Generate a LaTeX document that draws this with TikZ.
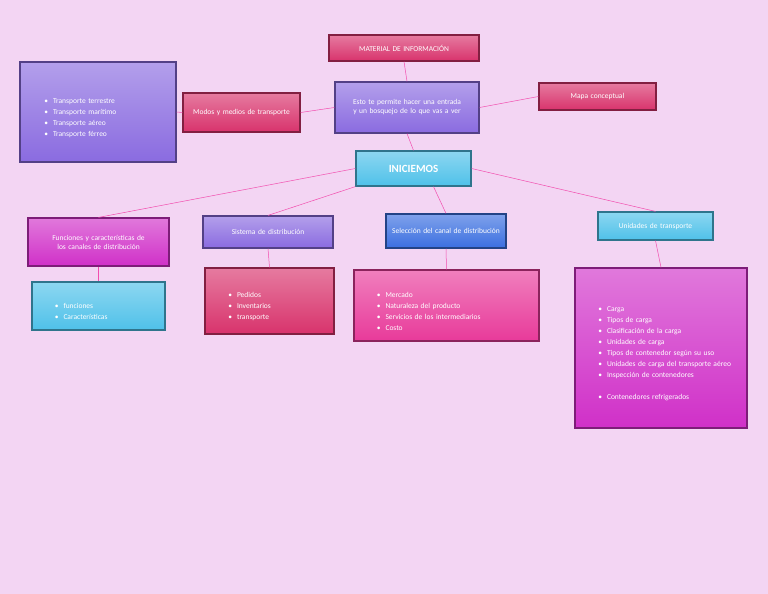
\documentclass[tikz,border=0pt]{standalone}
\usepackage{fontspec}
\setmainfont{Carlito}
\begin{document}
\begin{tikzpicture}[x=1pt,y=-1pt,
  bx/.style={draw=#1!60!black, line width=1.2pt, top color=#1!65!white, bottom color=#1, text=white, font=\fontsize{7.5}{9}\selectfont, align=center, inner sep=2pt},
  ln/.style={draw=magenta!70!white, line width=0.5pt}]
\definecolor{bg}{HTML}{F3D5F3}
\definecolor{crim}{HTML}{D8336C}
\definecolor{purp}{HTML}{8A6BE0}
\definecolor{cyn}{HTML}{4FC1E9}
\definecolor{mag}{HTML}{D030C8}
\definecolor{blu}{HTML}{3B6FE0}
\definecolor{pnk}{HTML}{E83A9A}
\fill[bg] (0,0) rectangle (768,594);
\useasboundingbox (0,0) rectangle (768,594);
\newcommand{\bxn}[7]{\node[bx=#6, minimum width=#4-#2, minimum height=#5-#3, text width=#4-#2-8] (#1) at ({(#2+#4)/2},{(#3+#5)/2}) {#7};}
\bxn{mat}{329}{35}{479}{61}{crim}{MATERIAL DE INFORMACIÓN}
\bxn{esto}{335}{82}{479}{133}{purp}{Esto te permite hacer una entrada y un bosquejo de lo que vas a ver}
\bxn{mapa}{539}{83}{656}{110}{crim}{Mapa conceptual}
\bxn{modos}{183}{93}{300}{132}{crim}{Modos y medios de transporte}
\node[bx=purp, minimum width=156, minimum height=100, text width=140, align=left] (trans) at (98,112) {\begin{itemize}\setlength\itemsep{-2pt}\item Transporte terrestre\item Transporte marítimo\item Transporte aéreo\item Transporte férreo\end{itemize}};
\bxn{ini}{356}{151}{471}{186}{cyn}{\fontsize{11}{13}\selectfont\bfseries INICIEMOS}
\bxn{fun}{28}{218}{169}{266}{mag}{Funciones y características de los canales de distribución}
\bxn{sis}{203}{216}{333}{248}{purp}{Sistema de distribución}
\bxn{sel}{386}{214}{506}{248}{blu}{Selección del canal de distribución}
\bxn{uni}{598}{212}{713}{240}{cyn}{Unidades de transporte}
\node[bx=cyn, minimum width=133, minimum height=48, text width=120, align=left] (funl) at (98.5,306) {\begin{itemize}\setlength\itemsep{-2pt}\item funciones\item Características\end{itemize}};
\node[bx=crim, minimum width=129, minimum height=66, text width=115, align=left] (ped) at (269.5,301) {\begin{itemize}\setlength\itemsep{-2pt}\item Pedidos\item Inventarios\item transporte\end{itemize}};
\node[bx=pnk, minimum width=185, minimum height=71, text width=172, align=left] (mer) at (446.5,305.5) {\begin{itemize}\setlength\itemsep{-2pt}\item Mercado\item Naturaleza del producto\item Servicios de los intermediarios\item Costo\end{itemize}};
\node[bx=mag, minimum width=172, minimum height=160, text width=158, align=left] (car) at (661,348) {\begin{itemize}\setlength\itemsep{-2pt}\item Carga\item Tipos de carga\item Clasificación de la carga\item Unidades de carga\item Tipos de contenedor según su uso\item Unidades de carga del transporte aéreo\item Inspección de contenedores\item[] \item Contenedores refrigerados\end{itemize}};
\draw[ln] (mat.south) -- (esto.north);
\draw[ln] (esto.west) -- (modos.east);
\draw[ln] (modos.west) -- (trans.east);
\draw[ln] (esto.east) -- (mapa.west);
\draw[ln] (esto.south) -- (ini.north);
\draw[ln] (ini.west) -- (fun.north);
\draw[ln] (ini.south west) -- (sis.north);
\draw[ln] (ini.south) ++(20,0) -- (sel.north);
\draw[ln] (ini.east) -- (uni.north);
\draw[ln] (fun.south) -- (funl.north);
\draw[ln] (sis.south) -- (ped.north);
\draw[ln] (sel.south) -- (mer.north);
\draw[ln] (uni.south) -- (car.north);
\end{tikzpicture}
\end{document}
